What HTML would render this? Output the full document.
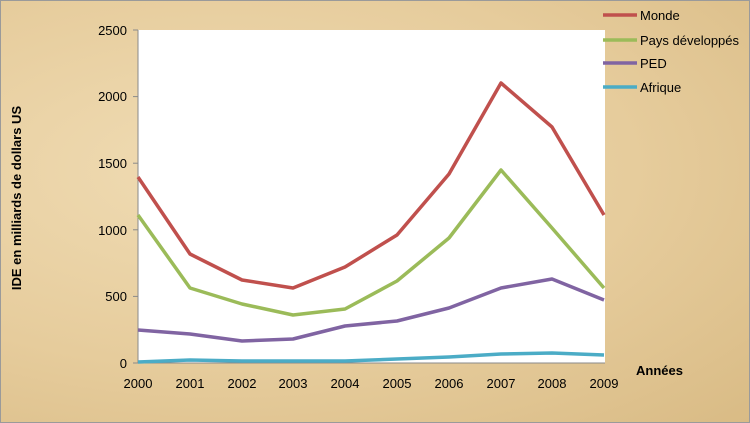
<!DOCTYPE html>
<html><head><meta charset="utf-8"><style>
html,body{margin:0;padding:0}
body{width:750px;height:423px;overflow:hidden;font-family:"Liberation Sans",sans-serif}
#bg{position:absolute;left:0;top:0;width:748px;height:421px;border:1px solid #9a9a9a;
background:radial-gradient(ellipse at 30% 40%,#f0dcb4 0%,#e6cc9c 55%,#d9bb85 100%)}
</style></head><body>
<div id="bg"></div>
<svg width="750" height="423" style="position:absolute;left:0;top:0" font-family="Liberation Sans, sans-serif">
<rect x="138" y="30" width="467" height="333" fill="#fff"/>
<g stroke="#8a8a8a" stroke-width="1">
<line x1="138" y1="30" x2="138" y2="363"/>
<line x1="138" y1="363" x2="605" y2="363"/>
<line x1="133" y1="30" x2="138" y2="30"/><line x1="133" y1="96.6" x2="138" y2="96.6"/>
<line x1="133" y1="163.2" x2="138" y2="163.2"/><line x1="133" y1="229.8" x2="138" y2="229.8"/>
<line x1="133" y1="296.4" x2="138" y2="296.4"/><line x1="133" y1="363" x2="138" y2="363"/>
</g>
<g font-size="13" fill="#000" text-anchor="end">
<text x="127" y="35">2500</text><text x="127" y="101">2000</text><text x="127" y="168">1500</text>
<text x="127" y="235">1000</text><text x="127" y="301">500</text><text x="127" y="368">0</text>
</g>
<g font-size="13" fill="#000" text-anchor="middle">
<text x="138" y="388">2000</text><text x="190" y="388">2001</text><text x="242" y="388">2002</text>
<text x="293" y="388">2003</text><text x="345" y="388">2004</text><text x="397" y="388">2005</text>
<text x="449" y="388">2006</text><text x="501" y="388">2007</text><text x="552" y="388">2008</text>
<text x="604" y="388">2009</text>
</g>
<text x="636" y="375" font-size="13" font-weight="bold">Années</text>
<text transform="translate(21,198) rotate(-90)" font-size="13" font-weight="bold" text-anchor="middle">IDE en milliards de dollars US</text>
<g fill="none" stroke-width="3.5" stroke-linejoin="round">
<polyline stroke="#c0504d" points="138,177 190,254 242,280 293,288 345,267 397,235 449,174 501,83 552,127 604,215"/>
<polyline stroke="#9bbb59" points="138,215 190,288 242,304 293,315 345,309 397,281 449,238 501,170 552,228 604,288"/>
<polyline stroke="#8064a2" points="138,330 190,334 242,341 293,339 345,326 397,321 449,308 501,288 552,279 604,300"/>
<polyline stroke="#4bacc6" points="138,362 190,360 242,361 293,361 345,361 397,359 449,357 501,354 552,353 604,355"/>
</g>
<g stroke-width="3.5">
<line x1="603" y1="15" x2="637" y2="15" stroke="#c0504d"/>
<line x1="603" y1="40" x2="637" y2="40" stroke="#9bbb59"/>
<line x1="603" y1="63" x2="637" y2="63" stroke="#8064a2"/>
<line x1="603" y1="87" x2="637" y2="87" stroke="#4bacc6"/>
</g>
<g font-size="13" fill="#000">
<text x="640" y="20">Monde</text><text x="640" y="45">Pays développés</text>
<text x="640" y="68">PED</text><text x="640" y="92">Afrique</text>
</g>
</svg>
</body></html>
